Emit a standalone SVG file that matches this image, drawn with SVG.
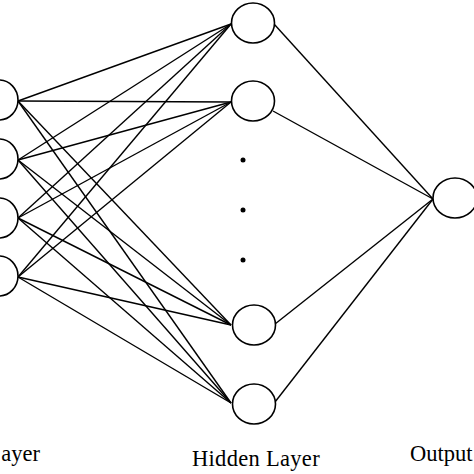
<svg xmlns="http://www.w3.org/2000/svg" width="474" height="474" viewBox="0 0 474 474">
<style>
.n{fill:#fff;stroke:#000;stroke-width:1.6}
.c line{stroke:#000;stroke-width:1.4}
.t{font-family:"Liberation Serif",serif;font-size:22.5px;fill:#000}
</style>
<rect width="474" height="474" fill="#fff"/>
<g class="c" id="connectors">
<line x1="18" y1="101" x2="231" y2="24"/><line x1="18" y1="101" x2="231" y2="102"/><line x1="18" y1="101" x2="231" y2="325"/><line x1="18" y1="101" x2="231" y2="403"/>
<line x1="18" y1="160" x2="231" y2="24"/><line x1="18" y1="160" x2="231" y2="102"/><line x1="18" y1="160" x2="231" y2="325"/><line x1="18" y1="160" x2="231" y2="403"/>
<line x1="18" y1="218" x2="231" y2="24"/><line x1="18" y1="218" x2="231" y2="102"/><line x1="18" y1="218" x2="231" y2="325"/><line x1="18" y1="218" x2="231" y2="403"/>
<line x1="18" y1="277" x2="231" y2="24"/><line x1="18" y1="277" x2="231" y2="102"/><line x1="18" y1="277" x2="231" y2="325"/><line x1="18" y1="277" x2="231" y2="403"/>
<line x1="274" y1="24" x2="433" y2="199"/><line x1="273" y1="111" x2="433" y2="199"/><line x1="275" y1="324" x2="433" y2="199"/><line x1="275" y1="402" x2="433" y2="199"/>
</g>
<g id="in1"><ellipse class="n" cx="-1" cy="100" rx="19" ry="20"/></g>
<g id="in2"><ellipse class="n" cx="-1" cy="159" rx="19" ry="20"/></g>
<g id="in3"><ellipse class="n" cx="-1" cy="218" rx="19" ry="20"/></g>
<g id="in4"><ellipse class="n" cx="-1" cy="276" rx="19" ry="20"/></g>
<g id="h1"><ellipse class="n" cx="253" cy="23" rx="21.5" ry="20"/></g>
<g id="h2"><ellipse class="n" cx="253" cy="101" rx="21.5" ry="20"/></g>
<g id="dots"><circle cx="243" cy="160" r="2.5"/><circle cx="243" cy="210" r="2.5"/><circle cx="243" cy="260" r="2.5"/></g>
<g id="h3"><ellipse class="n" cx="254" cy="325" rx="21.5" ry="20"/></g>
<g id="h4"><ellipse class="n" cx="254" cy="404" rx="21.5" ry="20"/></g>
<g id="out"><ellipse class="n" cx="455" cy="198" rx="22" ry="20"/></g>
<text class="t" x="40" y="461" text-anchor="end">ayer</text>
<text class="t" x="192" y="466" letter-spacing="0.3">Hidden Layer</text>
<text class="t" x="410" y="461">Output</text>
</svg>
